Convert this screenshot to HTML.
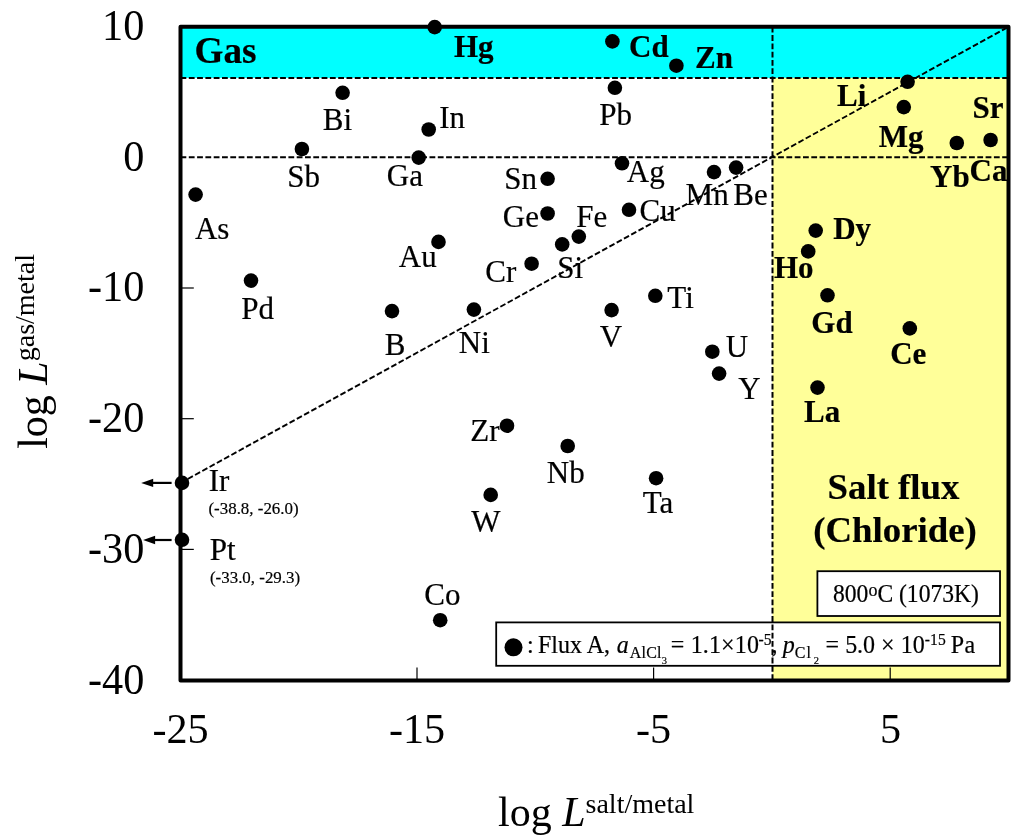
<!DOCTYPE html>
<html lang="en"><head><meta charset="utf-8"><title>log L gas/metal vs log L salt/metal</title>
<style>html,body{margin:0;padding:0;background:#fff}body{width:1024px;height:837px;overflow:hidden}svg{display:block}text{font-family:"Liberation Serif",serif;fill:#000;stroke:#000;stroke-width:0.2px;stroke-linejoin:round}.ns{stroke:none}.b{font-weight:bold}.i{font-style:italic}.d{stroke:#000;stroke-width:2;stroke-dasharray:5.8 2.5;fill:none}</style></head><body>
<svg width="1024" height="837" viewBox="0 0 1024 837">
<rect x="0" y="0" width="1024" height="837" fill="#fff"/>
<rect x="180.5" y="26.8" width="828.0" height="51.10000000000001" fill="#00ffff"/>
<rect x="772.5" y="77.9" width="236.0" height="602.5" fill="#ffff99"/>
<rect x="817.4" y="571.2" width="182.6" height="44.8" fill="#fff" stroke="#000" stroke-width="1.8"/>
<rect x="496.2" y="622.4" width="503.8" height="43.4" fill="#fff" stroke="#000" stroke-width="1.8"/>
<line class="d" x1="180.5" y1="77.9" x2="1008.5" y2="77.9"/>
<line class="d" x1="180.5" y1="157.2" x2="1008.5" y2="157.2"/>
<line class="d" x1="772.5" y1="26.8" x2="772.5" y2="680.4"/>
<line class="d" style="stroke-width:1.9" x1="180.5" y1="483.0" x2="1008.5" y2="26.8"/>
<line x1="180.5" y1="288.0" x2="193.8" y2="288.0" stroke="#000" stroke-width="1.2"/>
<line x1="180.5" y1="418.7" x2="193.8" y2="418.7" stroke="#000" stroke-width="1.2"/>
<line x1="180.5" y1="549.4" x2="193.8" y2="549.4" stroke="#000" stroke-width="1.2"/>
<line x1="417.0" y1="667.5" x2="417.0" y2="680.4" stroke="#000" stroke-width="1.2"/>
<line x1="653.6" y1="667.5" x2="653.6" y2="680.4" stroke="#000" stroke-width="1.2"/>
<line x1="890.2" y1="667.5" x2="890.2" y2="680.4" stroke="#000" stroke-width="1.2"/>
<rect x="180.5" y="26.8" width="828.0" height="653.6" fill="none" stroke="#000" stroke-width="4" stroke-linejoin="round"/>
<text transform="translate(144.3 40.0) scale(1 1.03)" class="ns" font-size="42.3" text-anchor="end">10</text>
<text transform="translate(144.3 170.9) scale(1 1.03)" class="ns" font-size="42.3" text-anchor="end">0</text>
<text transform="translate(144.3 301.4) scale(1 1.03)" class="ns" font-size="42.3" text-anchor="end">-10</text>
<text transform="translate(144.3 432.1) scale(1 1.03)" class="ns" font-size="42.3" text-anchor="end">-20</text>
<text transform="translate(144.3 562.8) scale(1 1.03)" class="ns" font-size="42.3" text-anchor="end">-30</text>
<text transform="translate(144.3 693.5) scale(1 1.03)" class="ns" font-size="42.3" text-anchor="end">-40</text>
<text transform="translate(180.5 743.2) scale(1 1.02)" class="ns" font-size="42.2" text-anchor="middle">-25</text>
<text transform="translate(417.0 743.2) scale(1 1.02)" class="ns" font-size="42.2" text-anchor="middle">-15</text>
<text transform="translate(653.6 743.2) scale(1 1.02)" class="ns" font-size="42.2" text-anchor="middle">-5</text>
<text transform="translate(890.5 743.2) scale(1 1.02)" class="ns" font-size="42.2" text-anchor="middle">5</text>
<text x="498" y="825.5" class="ns" font-size="42">log <tspan class="i">L</tspan><tspan font-size="28" dy="-12.5">salt/metal</tspan></text>
<text transform="translate(46.5 448.8) rotate(-90)" class="ns" font-size="42">log <tspan class="i">L</tspan><tspan font-size="28" dy="-12.5">gas/metal</tspan></text>
<line x1="171.6" y1="482.9" x2="150.2" y2="482.9" stroke="#000" stroke-width="2.2"/>
<path d="M141.2 482.9 l12 -4.2 l0 8.4 z" fill="#000"/>
<line x1="171.6" y1="540.0" x2="152.1" y2="540.0" stroke="#000" stroke-width="2.2"/>
<path d="M143.1 540.0 l12 -4.2 l0 8.4 z" fill="#000"/>
<circle cx="195.6" cy="194.6" r="7.3"/>
<circle cx="434.7" cy="27.1" r="7.3"/>
<circle cx="342.6" cy="92.8" r="7.3"/>
<circle cx="428.7" cy="129.5" r="7.3"/>
<circle cx="301.9" cy="149.0" r="7.3"/>
<circle cx="418.7" cy="157.6" r="7.3"/>
<circle cx="612.4" cy="41.4" r="7.3"/>
<circle cx="676.4" cy="65.7" r="7.3"/>
<circle cx="614.9" cy="87.8" r="7.3"/>
<circle cx="622.0" cy="163.3" r="7.3"/>
<circle cx="547.6" cy="178.8" r="7.3"/>
<circle cx="547.6" cy="213.5" r="7.3"/>
<circle cx="629.0" cy="209.8" r="7.3"/>
<circle cx="578.8" cy="236.6" r="7.3"/>
<circle cx="562.2" cy="244.4" r="7.3"/>
<circle cx="531.6" cy="263.7" r="7.3"/>
<circle cx="655.3" cy="295.8" r="7.3"/>
<circle cx="611.6" cy="310.1" r="7.3"/>
<circle cx="714.0" cy="172.1" r="7.3"/>
<circle cx="736.1" cy="167.6" r="7.3"/>
<circle cx="438.5" cy="241.9" r="7.3"/>
<circle cx="392.0" cy="311.1" r="7.3"/>
<circle cx="473.9" cy="309.6" r="7.3"/>
<circle cx="251.0" cy="280.6" r="7.3"/>
<circle cx="712.3" cy="351.7" r="7.3"/>
<circle cx="719.1" cy="373.6" r="7.3"/>
<circle cx="815.7" cy="230.6" r="7.3"/>
<circle cx="808.2" cy="251.4" r="7.3"/>
<circle cx="827.5" cy="295.3" r="7.3"/>
<circle cx="817.5" cy="387.6" r="7.3"/>
<circle cx="909.8" cy="328.4" r="7.3"/>
<circle cx="907.6" cy="81.8" r="7.3"/>
<circle cx="903.8" cy="107.1" r="7.3"/>
<circle cx="956.8" cy="143.0" r="7.3"/>
<circle cx="990.6" cy="140.0" r="7.3"/>
<circle cx="507.0" cy="425.7" r="7.3"/>
<circle cx="567.7" cy="446.0" r="7.3"/>
<circle cx="490.7" cy="494.9" r="7.3"/>
<circle cx="656.1" cy="478.2" r="7.3"/>
<circle cx="440.2" cy="620.2" r="7.3"/>
<circle cx="182.0" cy="482.9" r="7.3"/>
<circle cx="182.0" cy="539.8" r="7.3"/>
<text transform="translate(194.9 239.20000000000002) scale(1 1.04)" font-size="31.0">As</text>
<text transform="translate(454.0 56.699999999999996) scale(1 1.04)" font-size="31.0" class="b">Hg</text>
<text transform="translate(322.8 129.5) scale(1 1.04)" font-size="31.0">Bi</text>
<text transform="translate(439.3 127.7) scale(1 1.04)" font-size="31.0">In</text>
<text transform="translate(287.3 186.5) scale(1 1.04)" font-size="31.0">Sb</text>
<text transform="translate(386.8 186.3) scale(1 1.04)" font-size="31.0">Ga</text>
<text transform="translate(629.0 56.699999999999996) scale(1 1.04)" font-size="31.0" class="b">Cd</text>
<text transform="translate(695.0 67.5) scale(1 1.04)" font-size="31.0" class="b">Zn</text>
<text transform="translate(599.3 124.5) scale(1 1.04)" font-size="31.0">Pb</text>
<text transform="translate(626.8 181.9) scale(1 1.04)" font-size="31.0">Ag</text>
<text transform="translate(504.3 189.3) scale(1 1.04)" font-size="31.0">Sn</text>
<text transform="translate(502.8 226.9) scale(1 1.04)" font-size="31.0">Ge</text>
<text transform="translate(639.5999999999999 221.10000000000002) scale(1 1.04)" font-size="31.0">Cu</text>
<text transform="translate(576.3 226.9) scale(1 1.04)" font-size="31.0">Fe</text>
<text transform="translate(557.3 278.3) scale(1 1.04)" font-size="31.0">Si</text>
<text transform="translate(485.3 282.3) scale(1 1.04)" font-size="31.0">Cr</text>
<text transform="translate(667.3 307.6) scale(1 1.04)" font-size="31.0">Ti</text>
<text transform="translate(599.8 347.3) scale(1 1.04)" font-size="31.0">V</text>
<text transform="translate(685.5999999999999 204.8) scale(1 1.04)" font-size="31.0">Mn</text>
<text transform="translate(733.3 204.8) scale(1 1.04)" font-size="31.0">Be</text>
<text transform="translate(398.8 266.8) scale(1 1.04)" font-size="31.0">Au</text>
<text transform="translate(384.8 354.6) scale(1 1.04)" font-size="31.0">B</text>
<text transform="translate(458.8 353.3) scale(1 1.04)" font-size="31.0">Ni</text>
<text transform="translate(241.3 319.1) scale(1 1.04)" font-size="31.0">Pd</text>
<text transform="translate(725.8 357.1) scale(1 1.04)" font-size="31.0">U</text>
<text transform="translate(738.3 398.5) scale(1 1.04)" font-size="31.0">Y</text>
<text transform="translate(833.2 238.60000000000002) scale(1 1.04)" font-size="31.0" class="b">Dy</text>
<text transform="translate(774.0 278.0) scale(1 1.04)" font-size="31.0" class="b">Ho</text>
<text transform="translate(811.3 332.7) scale(1 1.04)" font-size="31.0" class="b">Gd</text>
<text transform="translate(804.0 421.8) scale(1 1.04)" font-size="31.0" class="b">La</text>
<text transform="translate(890.2 364.3) scale(1 1.04)" font-size="31.0" class="b">Ce</text>
<text transform="translate(837.0 106.2) scale(1 1.04)" font-size="31.0" class="b">Li</text>
<text transform="translate(878.7 147.10000000000002) scale(1 1.04)" font-size="31.0" class="b">Mg</text>
<text transform="translate(930.0 186.5) scale(1 1.04)" font-size="31.0" class="b">Yb</text>
<text transform="translate(969.5 181.4) scale(1 1.04)" font-size="31.0" class="b">Ca</text>
<text transform="translate(972.5 117.7) scale(1 1.04)" font-size="31.0" class="b">Sr</text>
<text transform="translate(470.3 441.3) scale(1 1.04)" font-size="31.0">Zr</text>
<text transform="translate(546.8 483.2) scale(1 1.04)" font-size="31.0">Nb</text>
<text transform="translate(471.3 531.5999999999999) scale(1 1.04)" font-size="31.0">W</text>
<text transform="translate(642.8 512.6999999999999) scale(1 1.04)" font-size="31.0">Ta</text>
<text transform="translate(424.3 605.0) scale(1 1.04)" font-size="31.0">Co</text>
<text transform="translate(208.8 491.1) scale(1 1.04)" font-size="31.0">Ir</text>
<text transform="translate(209.8 559.5999999999999) scale(1 1.04)" font-size="31.0">Pt</text>
<text x="208.5" y="514.1" font-size="16.9">(-38.8, -26.0)</text>
<text x="210" y="582.6" font-size="16.9">(-33.0, -29.3)</text>
<text transform="translate(194.6 63.3) scale(1 1.035)" font-size="37.2" class="b">Gas</text>
<text x="893.5" y="499.3" font-size="36.8" class="b" text-anchor="middle">Salt flux</text>
<text x="895" y="541.8" font-size="36.8" class="b" text-anchor="middle">(Chloride)</text>
<text transform="translate(833 601.9) scale(1 1.09)" font-size="23.6">800<tspan font-size="18" dy="-5.8">o</tspan><tspan dy="5.8">C (1073K)</tspan></text>
<circle cx="513.5" cy="647.3" r="9"/>
<text transform="translate(527 653.1) scale(1 1.07)" font-size="24">:<tspan dx="-1.7"> Flux A, </tspan><tspan class="i" dx="0.9">a</tspan><tspan font-size="16" dy="5" dx="0.8" letter-spacing="0.25">AlCl</tspan><tspan font-size="10.5" dy="5">3</tspan><tspan dy="-10" dx="-2.3" letter-spacing="0.15"> = 1.1×10</tspan><tspan font-size="15.6" dy="-7.4" dx="-0.5">-5</tspan><tspan dy="7.4">, </tspan><tspan class="i" dx="-0.8">p</tspan><tspan font-size="16" dy="5" letter-spacing="1.2">Cl</tspan><tspan font-size="10.5" dy="5" dx="1.5">2</tspan><tspan dy="-10" dx="0.6"> = 5.0 × 10</tspan><tspan font-size="15.6" dy="-7.4" letter-spacing="0.15">-15</tspan><tspan dy="7.4" dx="-1.6" letter-spacing="0.5"> Pa</tspan></text>
</svg></body></html>
